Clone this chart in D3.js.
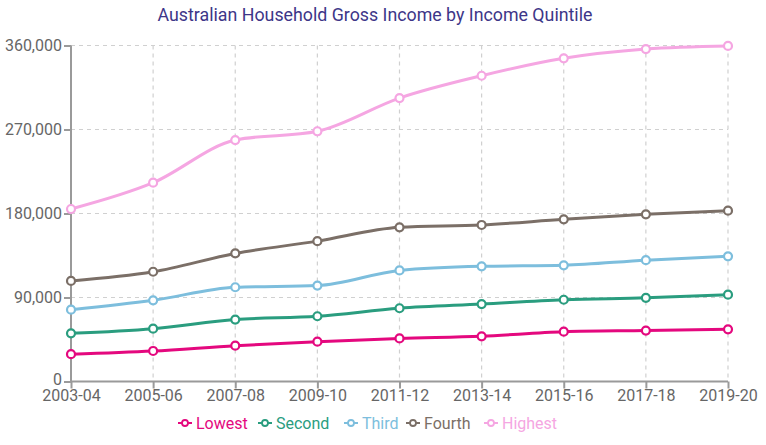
<!DOCTYPE html>
<html>
<head>
<meta charset="utf-8">
<script src="https://cdn.jsdelivr.net/npm/d3@7"></script>
<style>
  body { margin: 0; background: #fff; }
  svg { font-family: Roboto, "Noto Sans", sans-serif; }
</style>
</head>
<body>
<svg id="chart" width="766" height="445"></svg>
<script>
const years = ["2003-04","2005-06","2007-08","2009-10","2011-12","2013-14","2015-16","2017-18","2019-20"];
const lowest  = [29300, 32700, 38400, 42700, 46200, 48400, 53400, 54600, 55900];
const second  = [51600, 56600, 66300, 69900, 78500, 83000, 87600, 89600, 93000];
const third   = [77000, 87000, 101000, 102800, 119000, 123400, 124500, 130000, 134100];
const fourth  = [107800, 117600, 137200, 150400, 165200, 167700, 173800, 179100, 183000];
const highest = [184800, 213000, 258700, 268100, 303700, 327600, 346300, 356200, 359500];
const yTicks  = [0, 90000, 180000, 270000, 360000];
const seriesNames = ["Lowest","Second","Third","Fourth","Highest"];
const seriesValues = [lowest, second, third, fourth, highest];
const colors = ["#e4087e","#2a9d7f","#7dbedd","#7b6f67","#f5a6e2"];

const svg = d3.select("#chart");
const margin = {left: 71, right: 38, top: 45.5, bottom: 63.5};
const W = 766, H = 445;
const x = d3.scalePoint().domain(years).range([margin.left, W - margin.right]);
const y = d3.scaleLinear().domain([0, 360000]).range([H - margin.bottom, margin.top]);

// title
svg.append("text").attr("x", 375).attr("y", 21).attr("text-anchor", "middle")
  .attr("fill", "#3d3688").attr("font-size", 17.8).text("Australian Household Gross Income by Income Quintile");

// grid
const grid = svg.append("g");
grid.selectAll("line.h").data(yTicks.filter(d => d > 0)).join("line")
  .attr("x1", margin.left).attr("x2", W - margin.right)
  .attr("y1", d => y(d)).attr("y2", d => y(d))
  .attr("stroke", "#d0d0d0").attr("stroke-width", 1.2).attr("stroke-dasharray", "4,4");
grid.selectAll("line.v").data(years.slice(1)).join("line")
  .attr("x1", d => x(d)).attr("x2", d => x(d))
  .attr("y1", y(360000)).attr("y2", y(0))
  .attr("stroke", "#d0d0d0").attr("stroke-width", 1.2).attr("stroke-dasharray", "4,4");

// axes
const yAxis = svg.append("g").attr("transform", `translate(${margin.left},0)`)
  .call(d3.axisLeft(y).tickValues(yTicks).tickFormat(d3.format(",")).tickSize(7).tickPadding(2));
const xAxis = svg.append("g").attr("transform", `translate(0,${y(0)})`)
  .call(d3.axisBottom(x).tickSize(7).tickPadding(1));
[yAxis, xAxis].forEach(g => {
  g.select(".domain").attr("stroke", "#9a9a9a").attr("stroke-width", 2);
  g.selectAll(".tick line").attr("stroke", "#9a9a9a").attr("stroke-width", 2);
  g.selectAll(".tick text").attr("fill", "#666").attr("font-size", 16).attr("font-family", "Roboto, sans-serif");
});
xAxis.select(".domain").attr("d", `M${margin.left},0H${W - margin.right}`);
yAxis.select(".domain").attr("d", `M0,${y(360000)}V${y(0)}`);
yAxis.selectAll(".tick text").filter(d => d === 0).attr("dy", "0.2em");

// lines
const line = d3.line().x((d, i) => x(years[i])).y(d => y(d)).curve(d3.curveMonotoneX);
seriesValues.forEach((vals, si) => {
  const g = svg.append("g");
  g.append("path").attr("d", line(vals)).attr("fill", "none")
    .attr("stroke", colors[si]).attr("stroke-width", 3);
  g.selectAll("circle").data(vals).join("circle")
    .attr("cx", (d, i) => x(years[i])).attr("cy", d => y(d)).attr("r", 4)
    .attr("fill", "#fff").attr("stroke", colors[si]).attr("stroke-width", 2.2);
});

// legend
const legendX = [178, 258, 344, 406, 484];
const leg = svg.append("g");
seriesNames.forEach((n, i) => {
  const lx = legendX[i], ly = 423;
  leg.append("line").attr("x1", lx).attr("x2", lx + 14).attr("y1", ly).attr("y2", ly)
    .attr("stroke", colors[i]).attr("stroke-width", 2);
  leg.append("circle").attr("cx", lx + 7).attr("cy", ly).attr("r", 3)
    .attr("fill", "#fff").attr("stroke", colors[i]).attr("stroke-width", 1.8);
  leg.append("text").attr("x", lx + 18).attr("y", ly).attr("dy", "0.35em")
    .attr("fill", colors[i]).attr("font-size", 16).text(n);
});
</script>
</body>
</html>
